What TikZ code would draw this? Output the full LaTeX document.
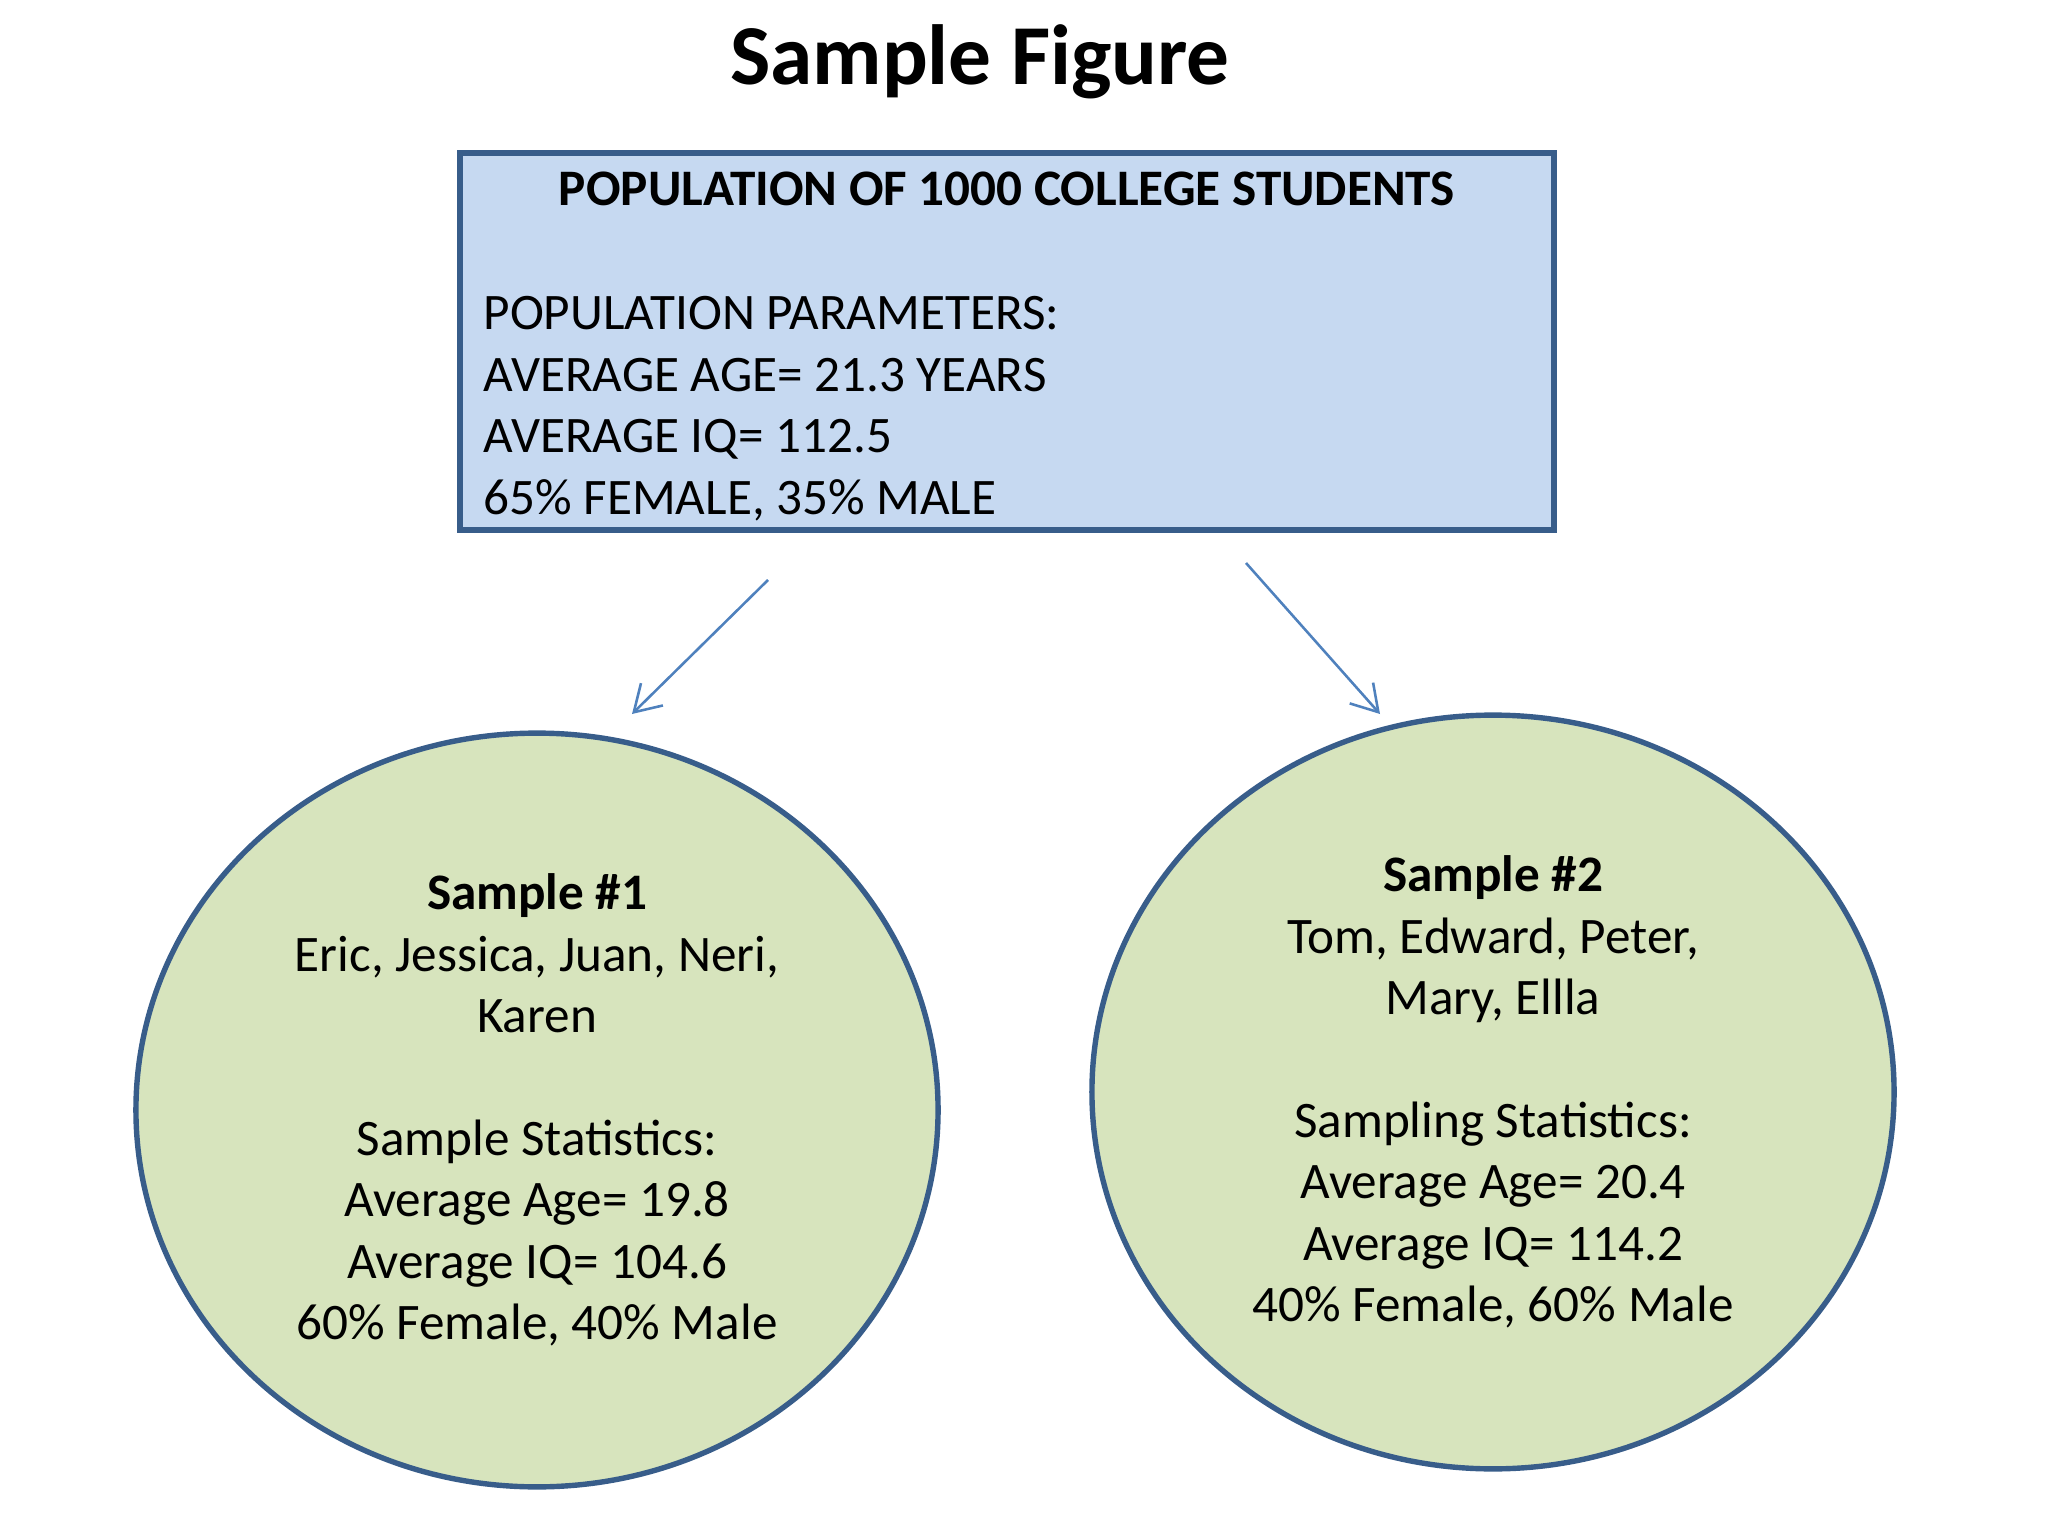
\documentclass[tikz,border=0pt]{standalone}
\usepackage{fontspec}
\setmainfont{Carlito}
\usepackage{tikz}
\usetikzlibrary{shapes,arrows,arrows.meta,positioning}
\usepackage{xcolor}
\definecolor{popfill}{HTML}{C6D9F1}
\definecolor{samplefill}{HTML}{D7E4BD}
\definecolor{edgeblue}{HTML}{385D8A}
\definecolor{arrowblue}{HTML}{4F81BD}

\begin{document}
\begin{tikzpicture}[x=0.3515625pt, y=-0.3515625pt,
    every node/.style={font=\fontsize{18}{21.6}\selectfont},
    popbox/.style={draw=edgeblue, fill=popfill, line width=1.9pt, minimum width=384.6pt, minimum height=132.5pt, inner sep=0pt},
    sample/.style={ellipse, draw=edgeblue, fill=samplefill, line width=1.9pt, minimum width=282pt, minimum height=265pt, align=center, inner sep=0pt},
    link/.style={draw=arrowblue, line width=0.9pt, -{Straight Barb[length=9pt,width=11pt]}}]
    \useasboundingbox (0,0) rectangle (2048,1536);
    \node[anchor=base, font=\fontsize{30}{36}\selectfont\bfseries] (title) at (980,85) {Sample Figure};
    % population box
    \node[popbox] (pop) at (1007,341.5) {};
    \node[font=\fontsize{18}{21.6}\selectfont\bfseries] (poptitle) at (1007,189) {POPULATION OF 1000 COLLEGE STUDENTS};
    \node[anchor=north west, align=left, inner sep=0pt] (params) at (483,296) {POPULATION PARAMETERS:\\
        AVERAGE AGE= 21.3 YEARS\\
        AVERAGE IQ= 112.5\\
        65\% FEMALE, 35\% MALE};
    % samples
    \node[sample] (sample1) at (537,1110) {\textbf{Sample \#1}\\
        Eric, Jessica, Juan, Neri,\\
        Karen\\[21.6pt]
        Sample Statistics:\\
        Average Age= 19.8\\
        Average IQ= 104.6\\
        60\% Female, 40\% Male};
    \node[sample] (sample2) at (1493,1092) {\textbf{Sample \#2}\\
        Tom, Edward, Peter,\\
        Mary, Ellla\\[21.6pt]
        Sampling Statistics:\\
        Average Age= 20.4\\
        Average IQ= 114.2\\
        40\% Female, 60\% Male};
    % arrows
    \coordinate (from1) at (768,580);
    \coordinate (to1) at (632,714);
    \coordinate (from2) at (1246,563);
    \coordinate (to2) at (1380,714);
    \draw[link] (from1) -- (to1);
    \draw[link] (from2) -- (to2);
\end{tikzpicture}
\end{document}
